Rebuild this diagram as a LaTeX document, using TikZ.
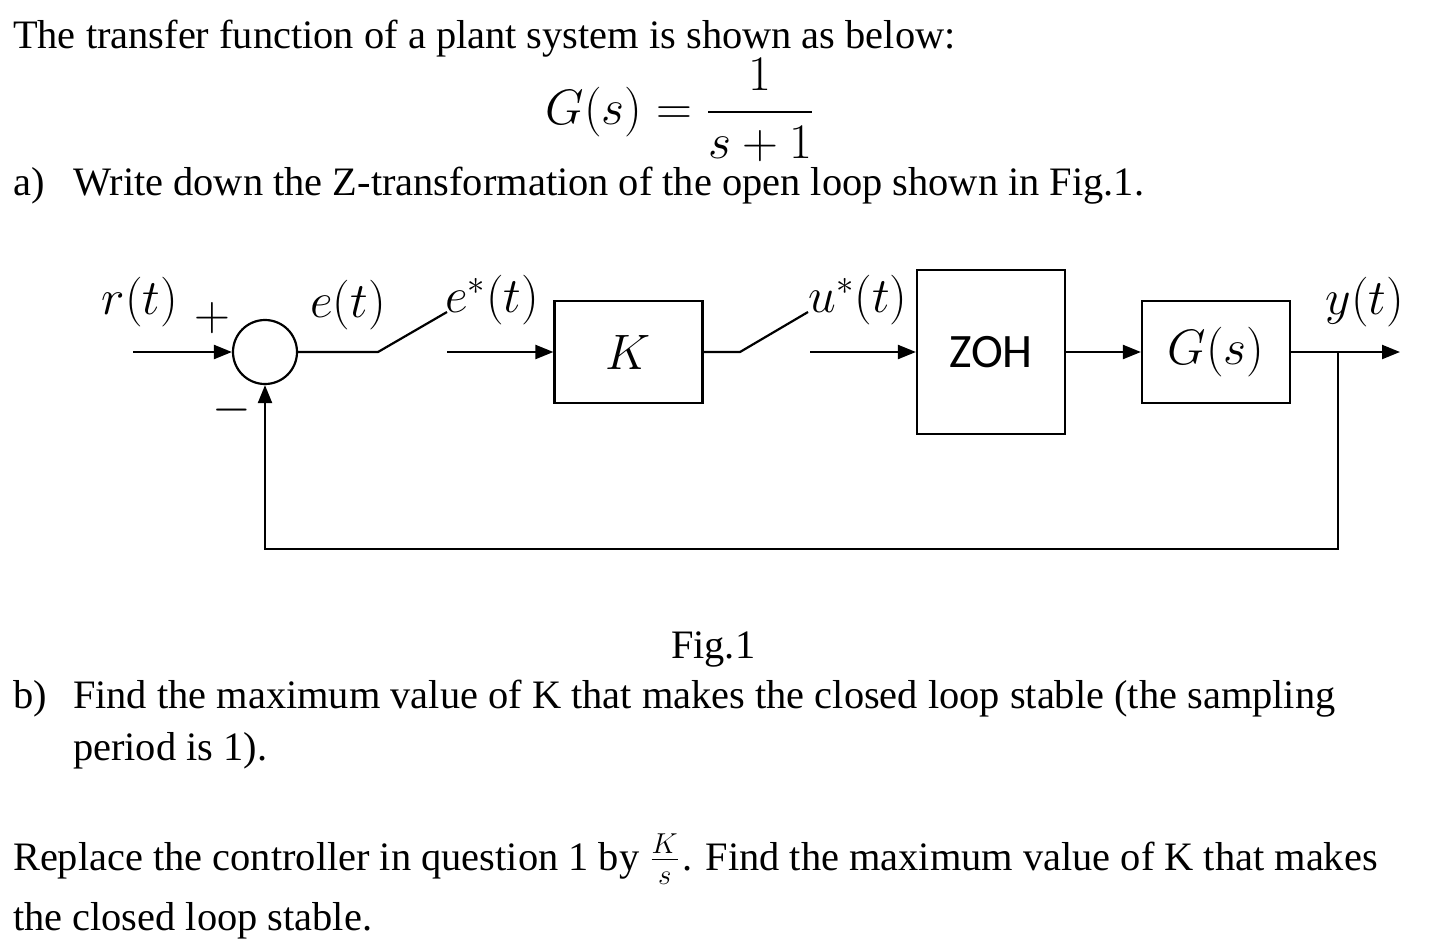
\documentclass[tikz,border=0pt]{standalone}
\usepackage{amsmath}
\usepackage{fontspec}
\setmainfont{Liberation Serif}
\newfontfamily\zohfont{Carlito}
\usetikzlibrary{arrows.meta}
\begin{document}
\begin{tikzpicture}[x=0.5pt,y=-0.5pt,line width=1.1pt,>={Triangle[length=9pt,width=7pt]},
  txt/.style={anchor=base west,inner sep=0pt,font=\fontsize{20.2}{24}\selectfont},
  lab/.style={inner sep=0pt,font=\fontsize{25}{29}\selectfont},
  blk/.style={draw,minimum width=74pt,minimum height=51pt,inner sep=0pt,font=\fontsize{24}{28}\selectfont}]
\useasboundingbox (0,0) rectangle (1431,949);
% text
\node[txt] (t1) at (12,48) {The transfer function of a plant system is shown as below:};
\node[lab] (gs) at (680,110) {$G(s)=\dfrac{1}{s+1}$};
\node[txt] (a) at (12,195) {a)};
\node[txt] (at) at (72,195) {Write down the Z-transformation of the open loop shown in Fig.1.};
\node[txt] (fig) at (670,658) {Fig.1};
\node[txt] (b) at (12,708) {b)};
\node[txt] (bt) at (72,708) {Find the maximum value of K that makes the closed loop stable (the sampling};
\node[txt] (bt2) at (72,760) {period is 1).};
\node[txt] (c1) at (12,870) {Replace the controller in question 1 by $\frac{K}{s}$\kern1pt. Find the maximum value of K that makes};
\node[txt] (c2) at (12,930) {the closed loop stable.};
% diagram
\node[draw,circle,minimum size=32pt,inner sep=0pt] (sum) at (265,352) {};
\node[blk] (K) at (628.5,352) {$K$};
\node[blk,minimum height=82pt] (zoh) at (991,352) {\zohfont ZOH};
\node[blk] (G) at (1216,352) {$G(s)$};
\coordinate (in) at (133,352);
\coordinate (s1a) at (378,352);
\coordinate (s1b) at (447,312);
\coordinate (s1c) at (447,352);
\coordinate (s2a) at (740,352);
\coordinate (s2b) at (808,312);
\coordinate (s2c) at (810,352);
\coordinate (out) at (1400,352);
\coordinate (br) at (1338,352);
\coordinate (fb1) at (1338,549);
\coordinate (fb2) at (265,549);
\draw[->] (in) -- (sum);
\draw (sum) -- (s1a) -- (s1b);
\draw[->] (s1c) -- (K);
\draw (K) -- (s2a) -- (s2b);
\draw[->] (s2c) -- (zoh);
\draw[->] (zoh) -- (G);
\draw[->] (G) -- (out);
\draw[->] (br) -- (fb1) -- (fb2) -- (sum);
\node[lab] (lr) at (140,302) {$r(t)$};
\node[lab] (lp) at (212,318) {$+$};
\node[lab] (lm) at (232,410) {$-$};
\node[lab] (le) at (348,305) {$e(t)$};
\node[lab] (les) at (492,300) {$e^*(t)$};
\node[lab] (lus) at (858,300) {$u^*(t)$};
\node[lab] (ly) at (1365,302) {$y(t)$};
\end{tikzpicture}
\end{document}
